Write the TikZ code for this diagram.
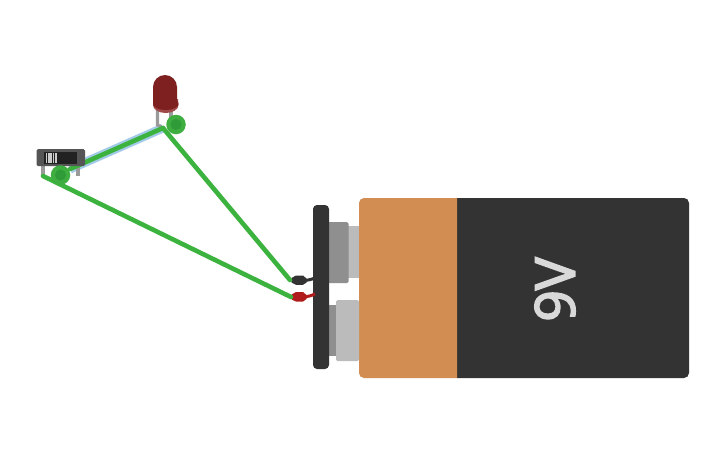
\documentclass[tikz,border=0pt]{standalone}
\usepackage{fontspec}
\setmainfont{Open Sans}
\newfontfamily\voltfont[FakeBold=3.2]{Open Sans}
\definecolor{wiregreen}{HTML}{3DB33F}
\definecolor{padgreen}{HTML}{3DAE3F}
\definecolor{paddark}{HTML}{2F9A38}
\definecolor{wireblue}{HTML}{A3CBE8}
\definecolor{ledred}{HTML}{7E2020}
\definecolor{ledrim}{HTML}{A04A4A}
\definecolor{lead}{HTML}{9A9A9A}
\definecolor{batdark}{HTML}{333333}
\definecolor{copper}{HTML}{D18D52}
\definecolor{termdark}{HTML}{8F8F8F}
\definecolor{termlight}{HTML}{BBBBBB}
\definecolor{plugred}{HTML}{B01C1C}
\definecolor{swbody}{HTML}{555555}
\definecolor{swslot}{HTML}{222222}
\tikzset{
  wire/.style={draw=wiregreen,line width=4.6pt,line cap=round},
  bluewire/.style={draw=wireblue,line width=9pt},
  leadline/.style={draw=lead,line width=3.2pt},
  pad/.style={circle,fill=padgreen,draw=none,minimum size=19.5pt,inner sep=0pt},
  padcore/.style={circle,fill=paddark,draw=none,minimum size=11pt,inner sep=0pt},
  box/.style={rounded corners=#1,draw=none},
  box/.default=1.5pt
}
\begin{document}
\begin{tikzpicture}[x=1pt,y=-1pt]
\useasboundingbox[fill=white] (0,0) rectangle (725,453);
% named points
\coordinate (ledjoint) at (163,128);
\coordinate (swjoint) at (43,176);
\coordinate (swright) at (70,169);
\coordinate (blackend) at (290,280);
\coordinate (redend) at (291,297);
\coordinate (blackplug) at (304,280.5);
\coordinate (redplug) at (304,297);
\coordinate (blackin) at (315,278);
\coordinate (redin) at (315,294);
% battery
\fill[batdark] (457,198) -- (684,198) arc[start angle=-90,end angle=0,radius=5] -- (689,373) arc[start angle=0,end angle=90,radius=5] -- (457,378) -- cycle;
\fill[copper] (457,198) -- (457,378) -- (364,378) arc[start angle=90,end angle=180,radius=5] -- (359,203) arc[start angle=180,end angle=270,radius=5] -- cycle;
% terminals
\fill[termlight] (345,226) rectangle (359,278);
\fill[box,termdark] (327,222) rectangle (348.5,283);
\fill[termdark] (327,305) rectangle (338,356);
\fill[box,termlight] (336,300) rectangle (359,361);
\fill[box=4pt,batdark] (313,205) rectangle (329,369);
\node[rotate=90,text=white!85!black,font=\voltfont\fontsize{55}{55}\selectfont,inner sep=0pt] (voltage) at (555,289.5) {9V};
% leads of the clip
\draw[batdark,line width=3pt] (blackin) to[bend left=8] (blackplug);
\draw[plugred,line width=3pt] (redin) to[bend left=8] (redplug);
\draw[lead,line width=4pt] (blackend) -- (294,280);
\draw[lead,line width=4pt] (redend) -- (294,297);
\fill[batdark] (291.5,278) -- (296,275.5) -- (303,275.5) -- (306.5,278.5) -- (306.5,282.5) -- (303,284.8) -- (296,284.8) -- (291.5,282.5) -- cycle;
\fill[plugred] (291.5,294.5) -- (296,292) -- (303,292) -- (306.5,295) -- (306.5,299) -- (303,301.5) -- (296,301.5) -- (291.5,299.5) -- cycle;
% blue wire and switch leads
\draw[bluewire] (ledjoint) -- (swright);
\draw[leadline] (43,164) -- (swjoint);
\draw[leadline] (78,164) -- (78,176);
% LED
\draw[leadline] (157.5,108) -- (157.5,125) -- (ledjoint);
\draw[leadline] (171,108) -- (171,118);
\fill[ledrim] (153,99) -- (178,99) -- (178.5,105) arc[start angle=0,end angle=180,x radius=12.75,y radius=8] -- cycle;
\fill[ledred] (153,87) arc[start angle=180,end angle=0,x radius=12,y radius=-12] -- (177,100) -- (178.5,104) arc[start angle=0,end angle=180,x radius=12.75,y radius=6] -- cycle;
% green wires
\draw[wire] (ledjoint) -- (swright);
\draw[wire] (ledjoint) -- (blackend);
\draw[wire] (swjoint) -- (redend);
% switch
\fill[box,swbody] (36.5,149) rectangle (85,166);
\fill[swslot] (44,152) rectangle (77,164);
\foreach \x in {45.5,47.9,50.3,52.7,55.1}{\fill[white!80!black] (\x,153) rectangle (\x+1.6,163);}
% pads
\node[pad] (padled) at (176,124.5) {};
\node[padcore] (padledc) at (176,124.5) {};
\node[pad] (padsw) at (60.5,175) {};
\node[padcore] (padswc) at (60.5,175) {};
\end{tikzpicture}
\end{document}
